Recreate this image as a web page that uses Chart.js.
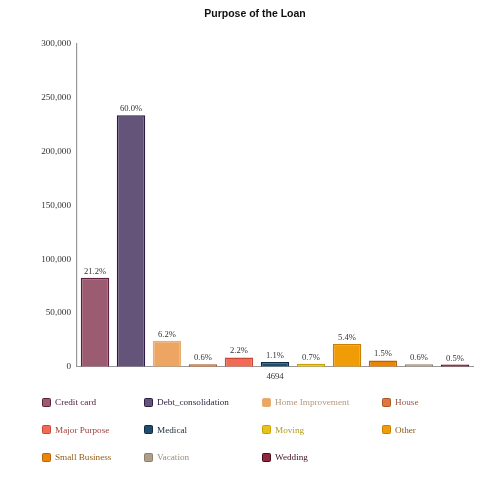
<!DOCTYPE html>
<html>
<head>
<meta charset="utf-8">
<script src="https://cdn.jsdelivr.net/npm/chart.js@4"></script>
<style>
  html, body { margin: 0; padding: 0; background: #fff; }
  #wrap { position: relative; width: 495px; height: 491px; }
  #legend {
    position: absolute; left: 42px; top: 395px;
    display: grid; grid-template-columns: 102px 118px 120px 100px;
    grid-auto-rows: 27.5px;
    font-family: "Liberation Serif", "Times New Roman", serif; font-size: 9.2px;
  }
  .li { display: flex; align-items: center; height: 14px; white-space: nowrap; }
  .bx { width: 7px; height: 7px; border: 1px solid; border-radius: 1.5px; margin-right: 4px; }
</style>
</head>
<body>
<div id="wrap">
  <canvas id="c" width="495" height="491"></canvas>
  <div id="legend"></div>
</div>
<script>
const categories = ["4694"];
const purposes = ["Credit card", "Debt_consolidation", "Home Improvement", "House",
  "Major Purpose", "Medical", "Moving", "Other", "Small Business", "Vacation", "Wedding"];
const loanCounts = [82600, 233800, 24200, 2340, 8580, 4290, 2730, 21050, 5850, 2340, 1950];
const yTicks = [0, 50000, 100000, 150000, 200000, 250000, 300000];

const fillColors = ["#9b5b70", "#65547a", "#eca562", "#e3733f", "#f06a55", "#1f4d6e",
  "#e8c11c", "#f09c06", "#ea8508", "#ae9e8a", "#8b2a3c"];
const borderColors = ["#5f1f3c", "#2c1c44", "#e7b070", "#a65a2a", "#c84838", "#0f2c46",
  "#c9a200", "#cc7e00", "#b8620a", "#8e7e6c", "#4a0a1a"];
const legendTextColors = ["#52203c", "#2a1e3c", "#b39a7c", "#9c5a48", "#a0443c", "#1c2a3c",
  "#b09c22", "#8a5a18", "#94601e", "#9a8c7c", "#40121f"];

const total = loanCounts.reduce((a, b) => a + b, 0);

const datasets = purposes.map((p, i) => ({
  label: p,
  data: [loanCounts[i]],
  backgroundColor: fillColors[i],
  borderColor: borderColors[i],
  borderWidth: 1.5,
  categoryPercentage: 1.0,
  barPercentage: 0.79
}));

const pctPlugin = {
  id: 'pct',
  afterDatasetsDraw(chart) {
    const ctx = chart.ctx;
    ctx.save();
    ctx.font = '8.6px "Liberation Serif", serif';
    ctx.fillStyle = '#333';
    ctx.textAlign = 'center';
    ctx.textBaseline = 'bottom';
    chart.data.datasets.forEach((ds, i) => {
      const el = chart.getDatasetMeta(i).data[0];
      const v = ds.data[0];
      ctx.fillText((v / total * 100).toFixed(1) + '%', el.x, el.y - 2);
    });
    ctx.restore();
  }
};

const chart = new Chart(document.getElementById('c'), {
  type: 'bar',
  data: { labels: categories, datasets },
  plugins: [pctPlugin],
  options: {
    responsive: false,
    animation: false,
    layout: { padding: { left: 37, right: 22, top: 0, bottom: 104 } },
    plugins: {
      legend: { display: false },
      tooltip: { enabled: false },
      title: {
        display: true,
        text: 'Purpose of the Loan',
        color: '#111',
        font: { family: '"Liberation Sans", Arial, sans-serif', size: 10.5, weight: 'bold' },
        padding: { top: 8, bottom: 23.4 }
      }
    },
    scales: {
      x: {
        grid: { display: false, drawTicks: false },
        border: { display: true, color: '#999', width: 1 },
        ticks: { color: '#333', padding: 5, font: { family: '"Liberation Serif", serif', size: 8.6 } }
      },
      y: {
        min: yTicks[0],
        max: yTicks[yTicks.length - 1],
        afterBuildTicks(scale) { scale.ticks = yTicks.map(v => ({ value: v })); },
        afterFit(scale) { scale.width = 40; },
        grid: { display: false, drawTicks: false },
        border: { display: true, color: '#999', width: 1.2 },
        ticks: {
          color: '#333', padding: 6,
          font: { family: '"Liberation Serif", serif', size: 9.2 },
          callback: v => v.toLocaleString('en-US')
        }
      }
    }
  }
});

const leg = document.getElementById('legend');
chart.data.datasets.forEach((ds, i) => {
  const d = document.createElement('div');
  d.className = 'li';
  const b = document.createElement('span');
  b.className = 'bx';
  b.style.background = ds.backgroundColor;
  b.style.borderColor = ds.borderColor;
  const t = document.createElement('span');
  t.textContent = ds.label;
  t.style.color = legendTextColors[i];
  d.appendChild(b); d.appendChild(t);
  leg.appendChild(d);
});
</script>
</body>
</html>
